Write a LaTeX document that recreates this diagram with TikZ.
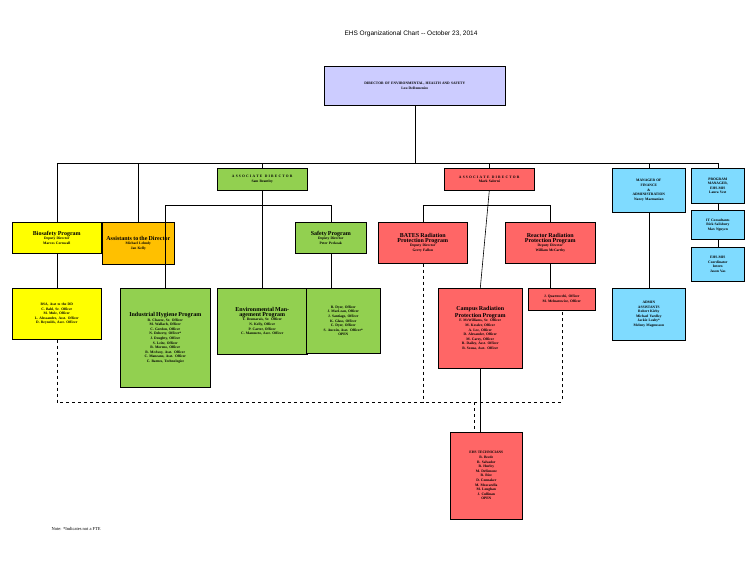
\documentclass[tikz,border=0pt]{standalone}
\usepackage{fontspec}
\setmainfont{Liberation Serif}
\newfontfamily\titlefont{Liberation Sans}
\definecolor{cyel}{HTML}{FFFF00}
\definecolor{cora}{HTML}{FFC000}
\definecolor{cgrn}{HTML}{92D050}
\definecolor{cred}{HTML}{FF6666}
\definecolor{cblu}{HTML}{7FDBFF}
\definecolor{clav}{HTML}{CCCCFF}
\begin{document}
\begin{tikzpicture}[x=1pt,y=-1pt,
 box/.style={draw=black,line width=0.6pt,anchor=north west,inner sep=1pt,align=center,font=\fontsize{3.6}{4.6}\selectfont\bfseries},
 hd/.style={font=\fontsize{6}{7}\selectfont\bfseries},
 ln/.style={line width=0.6pt},
 dsh/.style={line width=0.6pt,dashed}]
\useasboundingbox (0,0) rectangle (756,576);
\newcommand{\bx}[7]{\node[box,fill=#6,minimum width=#4-#2,minimum height=#5-#3,text width=#4-#2-4] (#1) at (#2,#3) {#7};}
\node[font=\titlefont\fontsize{6.5}{8}\selectfont] (title) at (411,34) {EHS Organizational Chart -- October 23, 2014};
\bx{dir}{324}{66}{505}{105}{clav}{DIRECTOR OF ENVIRONMENTAL, HEALTH AND SAFETY\\Lou DeDomenico}
\bx{ga}{217}{168}{307}{190}{cgrn}{A S S O C I A T E \ D I R E C T O R\\Sam Brantley}
\bx{ra}{444}{168}{534}{190}{cred}{A S S O C I A T E \ D I R E C T O R\\Mark Salerni}
\bx{fin}{612}{168}{685}{212}{cblu}{MANAGER OF\\FINANCE\\\&\\ADMINISTRATION\\Nancy Mazmanian}
\bx{pm}{691}{168}{744}{203}{cblu}{PROGRAM\\MANAGER,\\EHS-MIS\\Laura Vest}
\bx{cons}{691}{210}{744}{239}{cblu}{IT Consultants\\Rick Salisbury\\Max Nguyen}
\bx{mis}{691}{247}{744}{281}{cblu}{EHS-MIS\\Coordinator\\Intern\\Jason Vas}
\bx{bio}{12}{222}{101}{253}{cyel}{{\fontsize{6}{7}\selectfont Biosafety Program}\\Deputy Director\\Marcos Cornwall}
\bx{ast}{102}{222}{174}{264}{cora}{{\fontsize{6}{7}\selectfont Assistants to the Director}\\Michael Lehndy\\Jan Kelly}
\bx{saf}{295}{222}{366}{253}{cgrn}{{\fontsize{6}{7}\selectfont Safety Program}\\Deputy Director\\Peter Peckoak}
\bx{bat}{378}{222}{467}{263}{cred}{{\fontsize{6}{7}\selectfont BATES Radiation Protection Program}\\Deputy Director\\Gerry Fallon}
\bx{rea}{505}{222}{595}{263}{cred}{{\fontsize{6}{7}\selectfont Reactor Radiation Protection Program}\\Deputy Director\\William McCarthy}
\bx{ybs}{12}{288}{101}{339}{cyel}{BSA, Asst to the DD\\C. Bahl, Sr. Officer\\M. Mule, Officer\\L. Alessandro, Asst. Officer\\D. Reynolds, Asst. Officer}
\bx{ih}{120}{288}{210}{387}{cgrn}{{\fontsize{6}{7}\selectfont Industrial Hygiene Program}\\R. Chavez, Sr. Officer\\M. Wallach, Officer\\C. Gordon, Officer\\N. Doherty, Officer*\\J. Doughty, Officer\\S. Leite, Officer\\R. Moreno, Officer\\R. McAvoy, Asst. Officer\\C. Manzano, Asst. Officer\\C. Barnes, Technologist}
\bx{env}{217}{288}{307}{354}{cgrn}{{\fontsize{6}{7}\selectfont Environmental Management Program}\\T. Desmarais, Sr. Officer\\N. Kelly, Officer\\P. Carter, Officer\\C. Mansueto, Asst. Officer}
\bx{sfs}{306}{288}{380}{353}{cgrn}{R. Dyer, Officer\\J. MacLean, Officer\\J. Santiago, Officer\\K. Glass, Officer\\C. Dyer, Officer\\S. Aucoin, Asst. Officer*\\OPEN}
\bx{cam}{438}{288}{522}{368}{cred}{{\fontsize{6}{7}\selectfont Campus Radiation Protection Program}\\F. McWilliams, Sr. Officer\\M. Kessler, Officer\\A. Lee, Officer\\D. Alexander, Officer\\M. Carey, Officer\\R. Dailey, Asst. Officer\\R. Sousa, Asst. Officer}
\bx{rsb}{528}{288}{595}{310}{cred}{J. Quattrocchi, Officer\\M. Melnarowicz, Officer}
\bx{adm}{612}{288}{685}{340}{cblu}{ADMIN\\ASSISTANTS\\Robert Kirby\\Michael Yardley\\Jackie Leahy*\\Melony Magnusson}
\bx{tec}{450}{432}{522}{519}{cred}{EHS TECHNICIANS\\R. Beede\\R. Salvador\\R. Hurley\\M. DeSimone\\R. Rice\\D. Connaker\\M. Moscarella\\M. Loughan\\J. Cullinan\\OPEN}
\node[anchor=west,font=\fontsize{4.5}{5}\selectfont] (note) at (48,529) {Note: *Indicates not a FTE};
% solid connectors
\coordinate (bus) at (0,163);
\coordinate (gbus) at (0,205);
\draw[ln] (dir.south) -- (dir.south |- bus);
\draw[ln] (bio.north |- bus) -- (pm.north |- bus);
\foreach \n in {bio,ast,ga,ra,fin,pm} \draw[ln] (\n.north) -- (\n.north |- bus);
\draw[ln] (ga.south) -- (env.north);
\draw[ln] (ih.north |- gbus) -- (saf.north |- gbus);
\draw[ln] (ih.north) -- (ih.north |- gbus);
\draw[ln] (saf.north) -- (saf.north |- gbus);
\draw[ln] (saf.south) -- (saf.south |- sfs.north);
\draw[ln] (ra.south) -- (cam.north);
\draw[ln] (bat.north |- gbus) -- (rea.north |- gbus);
\draw[ln] (bat.north) -- (bat.north |- gbus);
\draw[ln] (rea.north) -- (rea.north |- gbus);
\draw[ln] (rea.south) -- (rea.south |- rsb.north);
\draw[ln] (cam.south) -- (cam.south |- tec.north);
\draw[ln] (fin.south) -- (adm.north);
\draw[ln] (pm.south) -- (cons.north);
\draw[ln] (cons.south) -- (mis.north);
\draw[ln] (bio.south) -- (ybs.north);
% dashed
\coordinate (dbus) at (0,402);
\coordinate (dt) at (474,0);
\draw[dsh] (ybs.south) -- (ybs.south |- dbus) -- (rsb.south |- dbus) -- (rsb.south);
\draw[dsh] (bat.south) -- (bat.south |- dbus);
\draw[dsh] (dt |- dbus) -- (dt |- tec.north);
\end{tikzpicture}
\end{document}
